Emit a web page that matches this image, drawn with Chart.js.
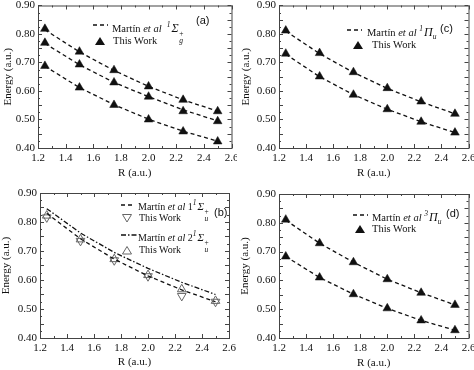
<!DOCTYPE html>
<html>
<head>
<meta charset="utf-8">
<script src="https://cdn.jsdelivr.net/npm/chart.js@4.4.0/dist/chart.umd.min.js"></script>
<style>
  body { margin: 0; background: #fff; }
  #wrap { position: relative; width: 474px; height: 370px; overflow: hidden; font-family: "Liberation Serif", "DejaVu Serif", serif; }
  canvas { position: absolute; }
  .lg { position: absolute; font-size: 10.5px; line-height: 12px; white-space: nowrap; color: #111; }
  .lg i { font-style: italic; }
  .gk { font-size: 12px; font-style: italic; }
  .ss { display: inline-flex; flex-direction: column; font-size: 7.5px; line-height: 7px; vertical-align: -4px; margin-left: 0.5px; }
  .sp { font-size: 7.5px; vertical-align: 5px; font-style: italic; margin-right: 1px; }
  .sb { font-size: 7.5px; vertical-align: -3px; font-style: italic; }
  .tag { position: absolute; font-family: "Liberation Sans", Arial, sans-serif; font-size: 11px; color: #111; }
  svg { position: absolute; overflow: visible; }
</style>
</head>
<body>
<div id="wrap">
  <canvas id="pa" width="237" height="185" style="left:0;top:0"></canvas>
  <canvas id="pc" width="237" height="185" style="left:237px;top:0"></canvas>
  <canvas id="pb" width="237" height="185" style="left:0;top:185px"></canvas>
  <canvas id="pd" width="237" height="185" style="left:237px;top:185px"></canvas>

  <!-- legend (a) -->
  <svg style="left:93px;top:24px" width="15" height="2"><line x1="0" y1="1" x2="15" y2="1" stroke="#111" stroke-width="1.3" stroke-dasharray="4,3"/></svg>
  <div class="lg" style="left:112px;top:19px">Martín <i>et al</i> &nbsp;<span class="sp">1</span><span class="gk">Σ</span><span class="ss"><span>+</span><span><i>g</i></span></span></div>
  <svg style="left:95px;top:37px" width="10" height="8"><polygon points="5,0 10,8 0,8" fill="#111"/></svg>
  <div class="lg" style="left:113px;top:35px">This Work</div>
  <div class="tag" style="left:196px;top:14px">(a)</div>

  <!-- legend (c) -->
  <svg style="left:347px;top:29px" width="15" height="2"><line x1="0" y1="1" x2="15" y2="1" stroke="#111" stroke-width="1.3" stroke-dasharray="4,3"/></svg>
  <div class="lg" style="left:367px;top:23px">Martín <i>et al</i> <span class="sp">1</span><span class="gk">Π</span><span class="sb">u</span></div>
  <svg style="left:353px;top:41px" width="10" height="8"><polygon points="5,0 10,8 0,8" fill="#111"/></svg>
  <div class="lg" style="left:372px;top:39px">This Work</div>
  <div class="tag" style="left:440px;top:22px">(c)</div>

  <!-- legend (b) -->
  <svg style="left:121px;top:204px" width="14" height="2"><line x1="0" y1="1" x2="14" y2="1" stroke="#111" stroke-width="1.3" stroke-dasharray="4,3"/></svg>
  <div class="lg" style="left:138px;top:197px;font-size:10px">Martín <i>et al</i> 1<span class="sp">1</span><span class="gk" style="font-size:11px">Σ</span><span class="ss"><span>+</span><span><i>u</i></span></span></div>
  <svg style="left:122px;top:214px" width="10" height="8"><polygon points="0.5,0.5 9.5,0.5 5,8" fill="none" stroke="#666" stroke-width="1"/></svg>
  <div class="lg" style="left:139px;top:212px;font-size:10px">This Work</div>
  <svg style="left:121px;top:234px" width="16" height="2"><line x1="0" y1="1" x2="16" y2="1" stroke="#111" stroke-width="1.3" stroke-dasharray="5,2,1.5,2"/></svg>
  <div class="lg" style="left:138px;top:228px;font-size:10px">Martín <i>et al</i> 2<span class="sp">1</span><span class="gk" style="font-size:11px">Σ</span><span class="ss"><span>+</span><span><i>u</i></span></span></div>
  <svg style="left:122px;top:246px" width="10" height="8"><polygon points="5,0.5 9.5,8 0.5,8" fill="none" stroke="#666" stroke-width="1"/></svg>
  <div class="lg" style="left:139px;top:244px;font-size:10px">This Work</div>
  <div class="tag" style="left:214px;top:206px">(b)</div>

  <!-- legend (d) -->
  <svg style="left:353px;top:214px" width="15" height="2"><line x1="0" y1="1" x2="15" y2="1" stroke="#111" stroke-width="1.3" stroke-dasharray="4,3"/></svg>
  <div class="lg" style="left:372px;top:208px">Martín <i>et al</i> <span class="sp">3</span><span class="gk">Π</span><span class="sb">u</span></div>
  <svg style="left:355px;top:225px" width="10" height="8"><polygon points="5,0 10,8 0,8" fill="#111"/></svg>
  <div class="lg" style="left:372px;top:223px">This Work</div>
  <div class="tag" style="left:446px;top:207px">(d)</div>
</div>

<script>
const R = [1.25, 1.5, 1.75, 2.0, 2.25, 2.5];
const xTicks = [1.2, 1.4, 1.6, 1.8, 2.0, 2.2, 2.4, 2.6];

// panel (a) 1Σg+
const aMartin1 = [0.815, 0.737, 0.672, 0.616, 0.569, 0.529];
const aMartin2 = [0.767, 0.692, 0.630, 0.580, 0.534, 0.495];
const aMartin3 = [0.687, 0.612, 0.552, 0.501, 0.459, 0.424];
const aWork1 = [0.818, 0.738, 0.673, 0.616, 0.569, 0.529];
const aWork2 = [0.769, 0.693, 0.630, 0.580, 0.529, 0.494];
const aWork3 = [0.688, 0.612, 0.551, 0.500, 0.458, 0.423];

// panel (c) 1Πu
const cMartin1 = [0.810, 0.731, 0.665, 0.609, 0.562, 0.520];
const cMartin2 = [0.729, 0.650, 0.587, 0.536, 0.492, 0.454];
const cWork1 = [0.812, 0.733, 0.666, 0.610, 0.563, 0.520];
const cWork2 = [0.731, 0.651, 0.587, 0.536, 0.492, 0.454];

// panel (b) 1 1Σu+ and 2 1Σu+
const bMartin1 = [0.830, 0.742, 0.672, 0.614, 0.566, 0.525];
const bMartin2 = [0.846, 0.762, 0.695, 0.640, 0.592, 0.550];
const bWork1 = [0.816, 0.735, 0.668, 0.613, 0.545, 0.525];
const bWork2 = [0.822, 0.740, 0.672, 0.617, 0.568, 0.528];

// panel (d) 3Πu
const dMartin1 = [0.809, 0.729, 0.663, 0.604, 0.557, 0.515];
const dMartin2 = [0.683, 0.610, 0.552, 0.503, 0.461, 0.427];
const dWork1 = [0.811, 0.729, 0.663, 0.604, 0.557, 0.515];
const dWork2 = [0.683, 0.610, 0.552, 0.503, 0.461, 0.427];

const serif = 'Liberation Serif';

function pts(ys) {
    return R.map((x, i) => ({x: x, y: ys[i]}));
}

function lineSet(ys, dash) {
    return {
        data: pts(ys), showLine: true, pointRadius: 0,
        borderColor: '#111', borderWidth: 1.3, borderDash: dash, fill: false
    };
}

function markSet(ys, color, filled, rot) {
    return {
        data: pts(ys), showLine: false, pointStyle: 'triangle', pointRadius: 5,
        pointRotation: rot || 0,
        pointBackgroundColor: filled ? color : 'rgba(0,0,0,0)',
        pointBorderColor: color, pointBorderWidth: filled ? 0.5 : 1
    };
}

// frame plus inward ticks on all four sides
const frameTicks = {
    id: 'frameTicks',
    afterDraw(chart) {
        const {ctx, chartArea: a, scales: {x, y}} = chart;
        ctx.save();
        ctx.strokeStyle = '#444';
        ctx.lineWidth = 1;
        ctx.strokeRect(a.left + 0.5, a.top + 0.5, a.right - a.left, a.bottom - a.top);
        ctx.beginPath();
        for (let v = 1.2; v <= 2.601; v += 0.1) {
            const px = Math.round(x.getPixelForValue(v)) + 0.5;
            const len = Math.round(v * 10) % 2 === 0 ? 4 : 2;
            ctx.moveTo(px, a.bottom); ctx.lineTo(px, a.bottom - len);
            ctx.moveTo(px, a.top); ctx.lineTo(px, a.top + len);
        }
        for (let v = 0.4; v <= 0.901; v += 0.025) {
            const py = Math.round(y.getPixelForValue(v)) + 0.5;
            const len = Math.round(v * 40) % 2 === 0 ? 4 : 2;
            ctx.moveTo(a.left, py); ctx.lineTo(a.left + len, py);
            ctx.moveTo(a.right, py); ctx.lineTo(a.right - len, py);
        }
        ctx.stroke();
        ctx.restore();
    }
};

function makePanel(id, datasets, box) {
    return new Chart(document.getElementById(id), {
        type: 'scatter',
        data: {datasets: datasets},
        plugins: [frameTicks],
        options: {
            responsive: false,
            animation: false,
            layout: {padding: {top: box.top, right: box.right, left: 0, bottom: 0}},
            plugins: {legend: {display: false}, tooltip: {enabled: false}},
            scales: {
                x: {
                    type: 'linear', min: 1.2, max: 2.6,
                    afterBuildTicks: (s) => { s.ticks = xTicks.map(v => ({value: v})); },
                    afterFit: (s) => { s.height = box.xh; s.paddingLeft = 0; s.paddingRight = 0; },
                    grid: {display: false, drawTicks: false},
                    border: {display: false},
                    ticks: {
                        padding: 4, color: '#111', maxRotation: 0, autoSkip: false,
                        font: {family: serif, size: 11},
                        callback: (v) => v.toFixed(1)
                    },
                    title: {display: true, text: 'R (a.u.)', color: '#111',
                        font: {family: serif, size: 11}, padding: {top: 0, bottom: box.xt}}
                },
                y: {
                    type: 'linear', min: 0.4, max: 0.9,
                    ticks: {
                        stepSize: 0.05, padding: 3, color: '#111',
                        font: {family: serif, size: 11},
                        callback: (v) => v.toFixed(2)
                    },
                    afterFit: (s) => { s.width = box.yw; s.paddingTop = 0; s.paddingBottom = 0; },
                    grid: {display: false, drawTicks: false},
                    border: {display: false},
                    title: {display: true, text: 'Energy (a.u.)', color: '#111',
                        font: {family: serif, size: 11}, padding: {top: box.yt, bottom: 0}}
                }
            }
        }
    });
}

const dash = [4, 3];
const dashDot = [5, 2, 1.5, 2];

makePanel('pa', [
    lineSet(aMartin1, dash), lineSet(aMartin2, dash), lineSet(aMartin3, dash),
    markSet(aWork1, '#111', true), markSet(aWork2, '#111', true), markSet(aWork3, '#111', true)
], {top: 3, right: 4, yw: 38, xh: 37, xt: 5, yt: 1.5});

makePanel('pc', [
    lineSet(cMartin1, dash), lineSet(cMartin2, dash),
    markSet(cWork1, '#111', true), markSet(cWork2, '#111', true)
], {top: 3, right: 2, yw: 42, xh: 37, xt: 5, yt: 3});

makePanel('pb', [
    lineSet(bMartin1, dash), lineSet(bMartin2, dashDot),
    markSet(bWork1, '#666', false, 180), markSet(bWork2, '#666', false)
], {top: 8, right: 8, yw: 40, xh: 32, xt: 1, yt: 0});

makePanel('pd', [
    lineSet(dMartin1, dash), lineSet(dMartin2, dash),
    markSet(dWork1, '#111', true), markSet(dWork2, '#111', true)
], {top: 9, right: 1, yw: 42, xh: 32, xt: 0, yt: 1.5});
</script>
</body>
</html>
